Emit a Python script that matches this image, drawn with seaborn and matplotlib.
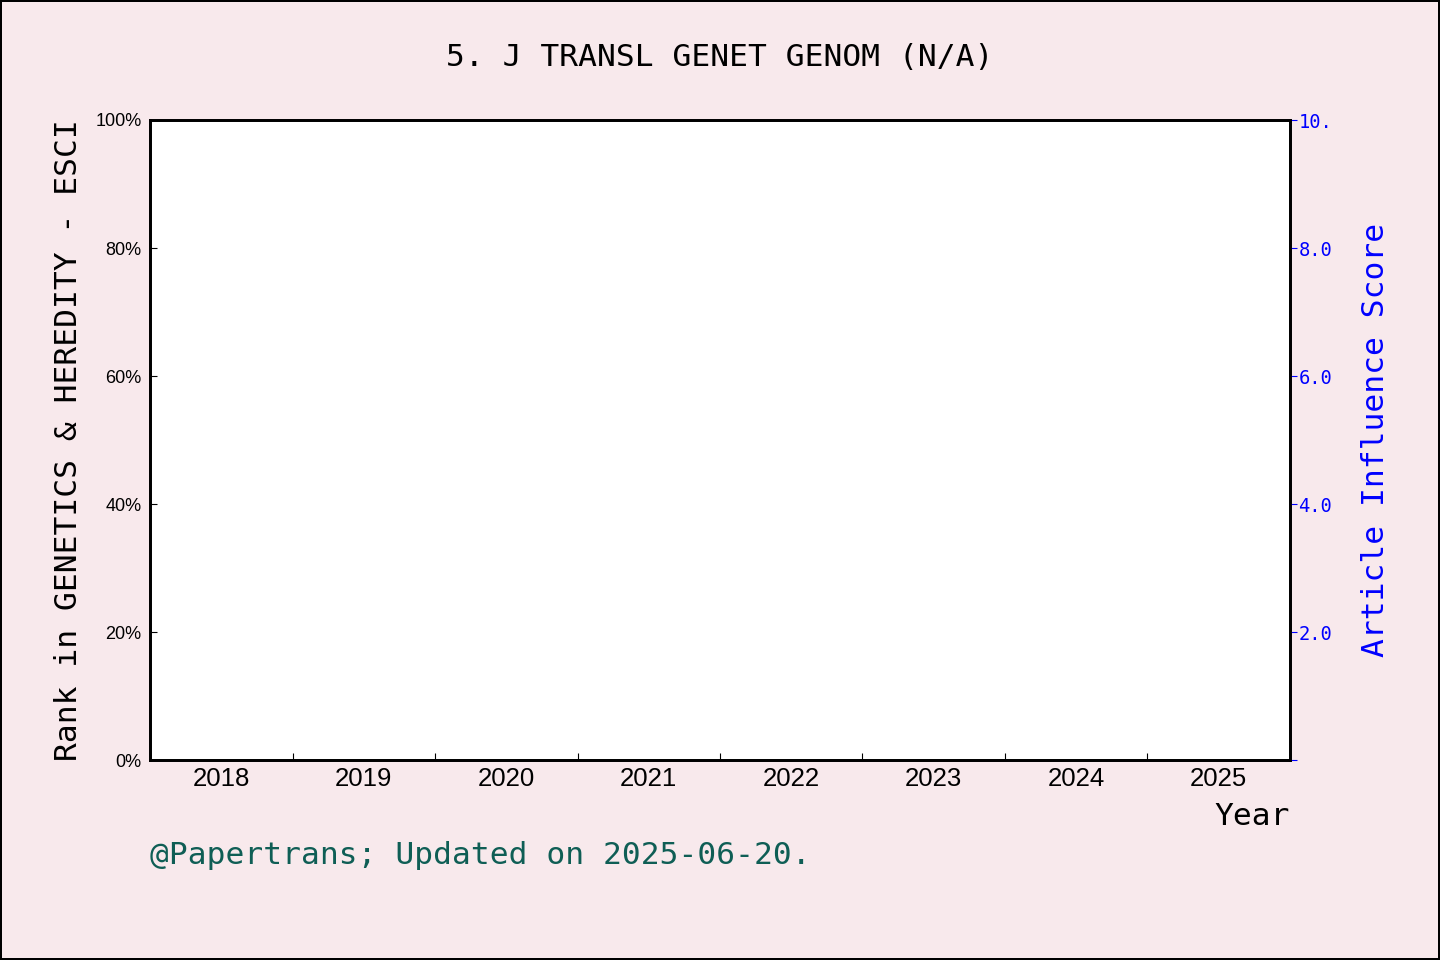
import numpy as np
import pandas as pd
import seaborn as sns
from matplotlib import pyplot as plt

sns.set_style("ticks")
plt.rcParams["text.color"] = "black"
plt.rcParams["axes.labelcolor"] = "black"
plt.rcParams["xtick.color"] = "black"
plt.rcParams["ytick.color"] = "black"

# chart data (no values published for this journal, so all empty)
years = ["2018", "2019", "2020", "2021", "2022", "2023", "2024", "2025"]
rank_pct = [np.nan] * 8
ais = [np.nan] * 8
left_ticks = [0, 20, 40, 60, 80, 100]
left_labels = ["0%", "20%", "40%", "60%", "80%", "100%"]
right_ticks = [0, 2, 4, 6, 8, 10]
right_labels = ["", "2.0", "4.0", "6.0", "8.0", "10."]

mono = ["DejaVu Sans Mono"]
bg = "#f8e9ec"

df = pd.DataFrame({"year": years, "rank": rank_pct, "ais": ais})
df["pos"] = range(len(years))

fig = plt.figure(figsize=(14.4, 9.6), dpi=100, facecolor=bg,
                 edgecolor="black", linewidth=1.5)
ax = fig.add_axes([0.1042, 0.2083, 0.7916, 0.6667])
ax.set_facecolor("white")
ax2 = ax.twinx()

sns.lineplot(data=df.dropna(subset=["rank"]), x="pos", y="rank", ax=ax, color="black")
sns.lineplot(data=df.dropna(subset=["ais"]), x="pos", y="ais", ax=ax2, color="blue")

ax.set_xlim(-0.5, len(years) - 0.5)
ax.set_ylim(0, 100)
ax2.set_ylim(0, 10)

ax.set_xticks(df["pos"])
ax.set_xticklabels(years, fontsize=18.5, family=["Liberation Sans"], color="black")
ax.tick_params(axis="x", which="major", length=0, pad=5)
ax.set_xticks(np.arange(0.5, len(years) - 0.5, 1), minor=True)
ax.tick_params(axis="x", which="minor", direction="in", length=5, width=0.8)

ax.set_yticks(left_ticks)
ax.set_yticklabels(left_labels, fontsize=13, family=["Liberation Sans"], color="black")
ax.tick_params(axis="y", direction="in", length=5, width=0.8, pad=6)

ax2.set_yticks(right_ticks)
ax2.set_yticklabels(right_labels, fontsize=13.5, family=mono, color="blue")
ax2.tick_params(axis="y", direction="out", length=5, width=0.8, colors="blue", pad=1)

for a in (ax, ax2):
    for s in a.spines.values():
        s.set_linewidth(2.0)
        s.set_color("black")

ax.set_xlabel("")
ax2.set_xlabel("")
ax.set_ylabel("Rank in GENETICS & HEREDITY - ESCI", fontsize=22.5, family=mono,
              color="black", labelpad=9)
ax2.set_ylabel("Article Influence Score", fontsize=22.5, family=mono, color="blue",
               labelpad=21)

fig.text(0.5, 0.94, "5. J TRANSL GENET GENOM (N/A)", fontsize=22.5, family=mono,
         color="black", ha="center", va="center")
fig.text(0.8958, 0.149, "Year", fontsize=22.5, family=mono, color="black",
         ha="right", va="center")
fig.text(0.1042, 0.109, "@Papertrans; Updated on 2025-06-20.", fontsize=22.5,
         family=mono, color="#0f5e55", ha="left", va="center")

fig.savefig("out.png", dpi=100, facecolor=bg, edgecolor="black")
